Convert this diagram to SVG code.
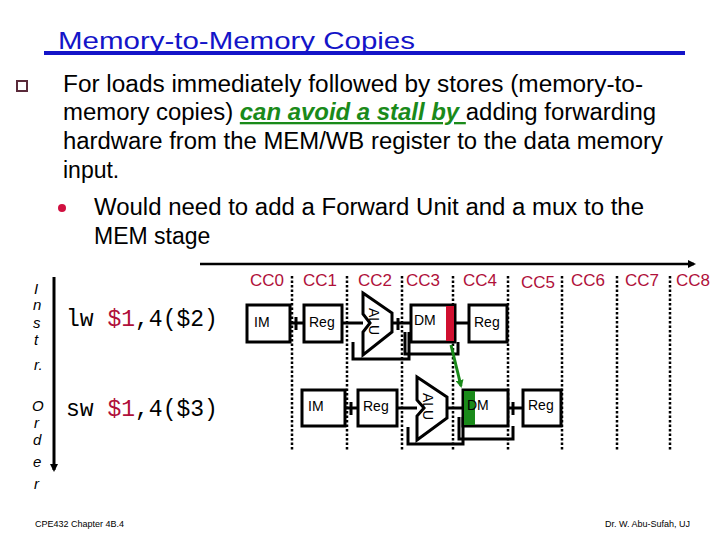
<svg xmlns="http://www.w3.org/2000/svg" width="720" height="540" viewBox="0 0 720 540">
<defs>
<style>
.t{font-family:"Liberation Sans",Arial,sans-serif;font-size:23px;fill:#000}
.cc{font-family:"Liberation Sans",Arial,sans-serif;font-size:17px;fill:#b0103a}
.m{font-family:"Liberation Mono","Courier New",monospace;font-size:23px;fill:#000}
.v{font-family:"Liberation Sans",Arial,sans-serif;font-size:15px;font-style:italic;fill:#000}
.bx{fill:#fff;stroke:#000;stroke-width:3}
.ln{fill:none;stroke:#000;stroke-width:3}
.dash{stroke:#000;stroke-width:2.5;stroke-dasharray:2.5 2}
.lb{font-family:"Liberation Sans",Arial,sans-serif;font-size:14px;fill:#000}
.sm{font-family:"Liberation Sans",Arial,sans-serif;font-size:9px;fill:#000}
</style>
<marker id="ah" markerWidth="8" markerHeight="8" refX="6" refY="4" orient="auto" markerUnits="userSpaceOnUse"><path d="M0,0 L8,4 L0,8 Z" fill="#000"/></marker>
<marker id="ag" markerWidth="8" markerHeight="8" refX="6" refY="4" orient="auto" markerUnits="userSpaceOnUse"><path d="M0,0 L8,4 L0,8 Z" fill="#1a8a1a"/></marker>
</defs>
<g id="title">
<text x="58" y="49" font-family="Liberation Sans,Arial,sans-serif" font-size="24" fill="#1414c8" textLength="357" lengthAdjust="spacingAndGlyphs">Memory-to-Memory Copies</text>
<rect x="44" y="51" width="641" height="4" fill="#1414c8"/>
</g>
<g id="bullets">
<rect x="17" y="81" width="10" height="10" fill="#fff" stroke="#5a2a3a" stroke-width="2"/>
<text class="t" x="63" y="92" textLength="580" lengthAdjust="spacingAndGlyphs">For loads immediately followed by stores (memory-to-</text>
<text class="t" x="63" y="120" textLength="593" lengthAdjust="spacingAndGlyphs">memory copies) <tspan fill="#1a8a1a" font-weight="bold" font-style="italic" text-decoration="underline">can avoid a stall by </tspan>adding forwarding</text>
<text class="t" x="63" y="149" textLength="600" lengthAdjust="spacingAndGlyphs">hardware from the MEM/WB register to the data memory</text>
<text class="t" x="63" y="178">input.</text>
<circle cx="62" cy="208" r="4" fill="#d01040"/>
<text class="t" x="94" y="215" textLength="550" lengthAdjust="spacingAndGlyphs">Would need to add a Forward Unit and a mux to the</text>
<text class="t" x="94" y="244">MEM stage</text>
</g>
<g id="axis">
<line x1="200" y1="264" x2="694" y2="264" stroke="#000" stroke-width="2.5" marker-end="url(#ah)"/>
<line x1="54" y1="277" x2="54" y2="470" stroke="#000" stroke-width="3" marker-end="url(#ah)"/>
<text class="v" x="34" y="294">I</text><text class="v" x="33" y="310">n</text><text class="v" x="33" y="328">s</text><text class="v" x="34" y="345">t</text><text class="v" x="34" y="370">r.</text>
<text class="v" x="32" y="411">O</text><text class="v" x="34" y="428">r</text><text class="v" x="33" y="445">d</text><text class="v" x="33" y="467">e</text><text class="v" x="34" y="489">r</text>
<text class="cc" x="250" y="286">CC0</text><text class="cc" x="303" y="286">CC1</text><text class="cc" x="358" y="286">CC2</text><text class="cc" x="406" y="286">CC3</text><text class="cc" x="463" y="286">CC4</text><text class="cc" x="521" y="288">CC5</text><text class="cc" x="571" y="286">CC6</text><text class="cc" x="625" y="286">CC7</text><text class="cc" x="676" y="286">CC8</text>
<g class="dash"><line x1="292" y1="276" x2="292" y2="450"/><line x1="347" y1="276" x2="347" y2="450"/><line x1="402" y1="276" x2="402" y2="450"/><line x1="453" y1="276" x2="453" y2="450"/><line x1="508" y1="276" x2="508" y2="450"/><line x1="562" y1="276" x2="562" y2="450"/><line x1="617" y1="276" x2="617" y2="450"/><line x1="670" y1="276" x2="670" y2="450"/></g>
</g>
<g id="instr">
<text class="m" x="66" y="326">lw <tspan fill="#b0103a">$1</tspan>,4($2)</text>
<text class="m" x="66" y="416">sw <tspan fill="#b0103a">$1</tspan>,4($3)</text>
</g>
<g id="connectors">
<path class="ln" d="M290,323 H304 M296,317 V330 M342,323 H363 M392,323 H411 M398,318 V330 M455,323 H469"/>
<path class="ln" d="M353,342 V359 H409 V332 M405,332 V354 H458 V342"/>
<path class="ln" d="M345,408 H358 M351,402 V415 M397,408 H417 M447,408 H463 M507,408 H523 M513,402 V415"/>
<path class="ln" d="M408,427 V444 H463 V417 M459,417 V439 H513 V426"/>
<line x1="451" y1="345" x2="461" y2="386" stroke="#1a8a1a" stroke-width="3" marker-end="url(#ag)"/>
</g>
<g id="row1">
<rect class="bx" x="247" y="305" width="43" height="37"/><text class="lb" x="254" y="327">IM</text>
<rect class="bx" x="304" y="305" width="38" height="37"/><text class="lb" x="309" y="327">Reg</text>
<path class="bx" d="M363,293 L392,313 V332 L363,355 V332 L370,323 L363,314 Z"/><text class="lb" transform="translate(369,308) rotate(90)">ALU</text>
<rect class="bx" x="411" y="305" width="44" height="37"/><text class="lb" x="414" y="325">DM</text>
<rect x="446" y="306" width="8" height="35" fill="#d01030"/>
<rect class="bx" x="469" y="305" width="38" height="37"/><text class="lb" x="474" y="327">Reg</text>
</g>
<g id="row2">
<rect class="bx" x="302" y="390" width="43" height="36"/><text class="lb" x="308" y="411">IM</text>
<rect class="bx" x="358" y="390" width="39" height="36"/><text class="lb" x="363" y="411">Reg</text>
<path class="bx" d="M417,377 L447,397 V418 L417,440 V416 L424,408 L417,400 Z"/><text class="lb" transform="translate(423,393) rotate(90)">ALU</text>
<rect class="bx" x="463" y="390" width="45" height="36"/>
<rect x="464" y="391" width="11" height="34" fill="#1a8a1a"/><text class="lb" x="467" y="410">DM</text>
<rect class="bx" x="523" y="390" width="38" height="36"/><text class="lb" x="528" y="410">Reg</text>
</g>
<g id="footer">
<text class="sm" x="35" y="527">CPE432  Chapter 4B.4</text>
<text class="sm" x="605" y="527">Dr. W. Abu-Sufah, UJ</text>
</g>
</svg>
